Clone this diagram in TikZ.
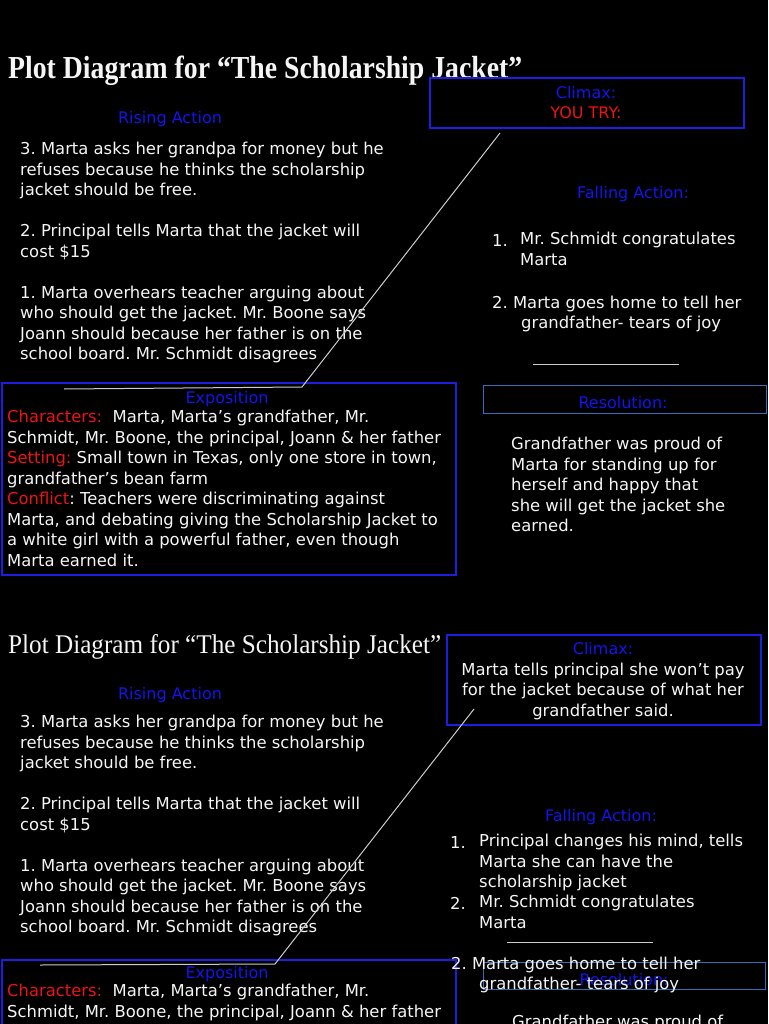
\documentclass[tikz,border=0pt]{standalone}
\usepackage{fontspec}
\usepackage{graphicx}
\setmainfont{DejaVu Sans}
\newfontfamily\ttlfont{Liberation Serif}
\definecolor{txtwhite}{RGB}{245,245,245}
\definecolor{lblblue}{RGB}{20,20,235}
\definecolor{lblred}{RGB}{235,20,20}
\definecolor{boxblue}{RGB}{30,30,225}
\definecolor{resblue}{RGB}{55,110,180}
\definecolor{linegray}{RGB}{205,205,205}
\begin{document}
\frenchspacing
\begin{tikzpicture}[x=1pt,y=-1pt,
  body/.style={text=txtwhite, font=\fontsize{16.4}{20.5}\selectfont, align=left, anchor=base west, inner sep=0pt, yshift=-1.2pt},
  mbody/.style={text=txtwhite, font=\fontsize{16.4}{20.5}\selectfont, align=left, anchor=north west, inner sep=0pt, yshift=-1.2pt, execute at begin node=\strut},
  cbody/.style={text=txtwhite, font=\fontsize{16.4}{20.3}\selectfont, align=center, anchor=north, inner sep=0pt, yshift=-1.2pt, execute at begin node=\strut},
  lbl/.style={text=lblblue, font=\fontsize{16}{20}\selectfont, anchor=base, inner sep=0pt, yshift=-1.5pt},
  redlbl/.style={text=lblred, font=\fontsize{16}{20}\selectfont, anchor=base, inner sep=0pt, yshift=-1.5pt},
  boxst/.style={draw=boxblue, line width=1.6pt, anchor=north west, inner sep=0pt},
  resbox/.style={draw=resblue, line width=1.2pt, anchor=north west, inner sep=0pt},
  plotline/.style={draw=linegray, line width=1pt},
  ttl/.style={text=txtwhite, anchor=base west, inner sep=0pt}]
\fill[black] (0,0) rectangle (768,1024);
\useasboundingbox (0,0) rectangle (768,1024);
\clip (0,0) rectangle (768,1024);

% ================= TOP HALF =================
\node[ttl] (title1) at (8,79) {\resizebox{514pt}{\height}{\fontsize{32}{32}\ttlfont\bfseries Plot Diagram for “The Scholarship Jacket”}};

\node[boxst, minimum width=314pt, minimum height=50pt] (climaxbox1) at (429,77) {};
\node[lbl] (climax1) at (586,97) {Climax:};
\node[redlbl] (youtry1) at (586,117) {YOU TRY:};

\node[lbl] (rising1) at (170,122) {Rising Action};
\node[mbody] (risingtxt1) at (20,140.65) {3. Marta asks her grandpa for money but he\\
refuses because he thinks the scholarship\\
jacket should be free.\\[20.5pt]
2. Principal tells Marta that the jacket will\\
cost \$15\\[20.5pt]
1. Marta overhears teacher arguing about\\
who should get the jacket. Mr. Boone says\\
Joann should because her father is on the\\
school board. Mr. Schmidt disagrees};

\node[lbl] (falling1) at (633,197) {Falling Action:};
\node[body] (fa1num1) at (492,245) {1.};
\node[mbody] (fa1txt1) at (520,230.65) {Mr. Schmidt congratulates\\Marta};
\node[body] (fa2txt1) at (492,307) {2. Marta goes home to tell her};
\node[body] (fa2cont1) at (521,327) {grandfather- tears of joy};
\coordinate (fl1a) at (533,364);
\coordinate (fl1b) at (679,364);
\draw[plotline] (fl1a) -- (fl1b);

\node[boxst, minimum width=454pt, minimum height=192pt] (expobox1) at (1,382) {};
\node[lbl] (expo1) at (227,402) {Exposition};
\node[mbody] (expotxt1) at (7,408.65) {\textcolor{lblred}{Characters:}\ \ Marta, Marta’s grandfather, Mr.\\
Schmidt, Mr. Boone, the principal, Joann \& her father\\
\textcolor{lblred}{Setting:} Small town in Texas, only one store in town,\\
grandfather’s bean farm\\
\textcolor{lblred}{Conflict}: Teachers were discriminating against\\
Marta, and debating giving the Scholarship Jacket to\\
a white girl with a powerful father, even though\\
Marta earned it.};

\node[resbox, minimum width=283pt, minimum height=28pt] (resbox1) at (483,385) {};
\node[lbl] (res1) at (623,407) {Resolution:};
\node[mbody] (restxt1) at (511,435.65) {Grandfather was proud of\\
Marta for standing up for\\
herself and happy that\\
she will get the jacket she\\
earned.};

\coordinate (pl1a) at (64,389);
\coordinate (pl1b) at (302,387);
\coordinate (pl1c) at (500,133);
\draw[plotline] (pl1a) -- (pl1b) -- (pl1c);

% ================= BOTTOM HALF =================
\node[ttl] (title2) at (8,653) {\resizebox{433pt}{\height}{\fontsize{27}{27}\ttlfont Plot Diagram for “The Scholarship Jacket”}};

\node[boxst, minimum width=314pt, minimum height=90pt] (climaxbox2) at (446,634) {};
\node[lbl] (climax2) at (603,653) {Climax:};
\node[cbody] (climaxtxt2) at (603,661.65) {Marta tells principal she won’t pay\\
for the jacket because of what her\\
grandfather said.};

\node[lbl] (rising2) at (170,698) {Rising Action};
\node[mbody] (risingtxt2) at (20,713.65) {3. Marta asks her grandpa for money but he\\
refuses because he thinks the scholarship\\
jacket should be free.\\[20.5pt]
2. Principal tells Marta that the jacket will\\
cost \$15\\[20.5pt]
1. Marta overhears teacher arguing about\\
who should get the jacket. Mr. Boone says\\
Joann should because her father is on the\\
school board. Mr. Schmidt disagrees};

\node[lbl] (falling2) at (601,820) {Falling Action:};
\node[body] (fa1num2) at (450,847) {1.};
\node[mbody] (fa1txt2) at (479,832.65) {Principal changes his mind, tells\\
Marta she can have the\\
scholarship jacket};
\node[body] (fa2num2) at (450,908) {2.};
\node[mbody] (fa2txt2) at (479,893.65) {Mr. Schmidt congratulates\\Marta};
\coordinate (fl2a) at (507,942);
\coordinate (fl2b) at (653,942);
\draw[plotline] (fl2a) -- (fl2b);

\node[boxst, minimum width=454pt, minimum height=120pt] (expobox2) at (1,959) {};
\node[lbl] (expo2) at (227,977) {Exposition};
\node[mbody] (expotxt2) at (7,982.65) {\textcolor{lblred}{Characters:}\ \ Marta, Marta’s grandfather, Mr.\\
Schmidt, Mr. Boone, the principal, Joann \& her father};

\node[resbox, minimum width=282pt, minimum height=27pt] (resbox2) at (483,962) {};
\node[lbl] (res2) at (624,984) {Resolution:};
\node[body] (restxt2) at (512,1026) {Grandfather was proud of};

\node[body] (fa3txt2) at (451,968) {2. Marta goes home to tell her};
\node[body] (fa3cont2) at (479,988) {grandfather- tears of joy};

\coordinate (pl2a) at (40,965);
\coordinate (pl2b) at (275,964);
\coordinate (pl2c) at (474,709);
\draw[plotline] (pl2a) -- (pl2b) -- (pl2c);
\end{tikzpicture}
\end{document}
